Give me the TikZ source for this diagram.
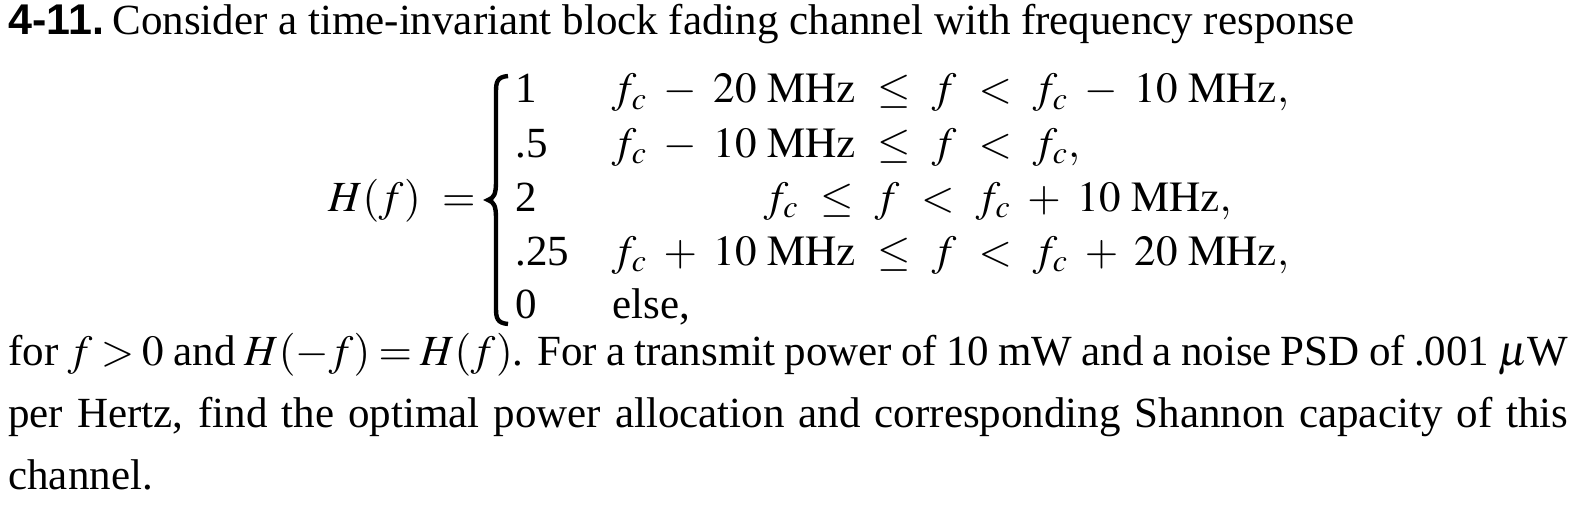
\documentclass[tikz,border=0pt]{standalone}
\usepackage{mathptmx}
\usepackage{fontspec}
\setmainfont{Liberation Serif}
\setsansfont{Liberation Sans}
\begin{document}
\begin{tikzpicture}[x=0.5pt,y=-0.5pt,
  txt/.style={inner sep=0pt,font=\fontsize{21.5}{34}\selectfont},
  mth/.style={txt,execute at begin node={\medmuskip=7mu\thickmuskip=9mu}}]
\useasboundingbox (0,0) rectangle (1588,508);
\node[txt,anchor=base west] (num) at (8,35) {\sffamily\bfseries 4-11.};
\node[txt,anchor=base west] (l1) at (112,35) {Consider a time-invariant block fading channel with frequency response};
\node[mth,anchor=base east] (hf) at (476,211) {$H(f)=$};
\draw[line width=2.2pt] (508,76) .. controls (497,77) and (496,82) .. (496,92) -- (496,182)
  .. controls (496,194) and (494,198) .. (488,200) .. controls (494,202) and (496,206) .. (496,218)
  -- (496,308) .. controls (496,318) and (497,323) .. (508,324);
\node[txt,anchor=base west] (v1) at (515,103) {1};
\node[txt,anchor=base west] (v2) at (515,157) {.5};
\node[txt,anchor=base west] (v3) at (515,211) {2};
\node[txt,anchor=base west] (v4) at (515,265) {.25};
\node[txt,anchor=base west] (v5) at (515,318) {0};
\node[mth,anchor=base west] (c1) at (612,103) {$f_c-20\ \mathrm{MHz}\le f<f_c-10\ \mathrm{MHz},$};
\node[mth,anchor=base west] (c2) at (612,157) {$f_c-10\ \mathrm{MHz}\le f<f_c,$};
\node[mth,anchor=base east] (c3) at (1232,211) {$f_c\le f<f_c+10\ \mathrm{MHz},$};
\node[mth,anchor=base west] (c4) at (612,265) {$f_c+10\ \mathrm{MHz}\le f<f_c+20\ \mathrm{MHz},$};
\node[txt,anchor=base west] (c5) at (612,318) {else,};
\node[txt,anchor=north west,text width=780pt,align=justify,font=\fontsize{21.5}{31}\selectfont] (p) at (8,333)
  {for $f>0$ and $H(-f)=H(f)$. For a transmit power of 10 mW and a noise PSD of .001~$\mu$W per Hertz, find the optimal power allocation and corresponding Shannon capacity of this channel.};
\end{tikzpicture}
\end{document}
